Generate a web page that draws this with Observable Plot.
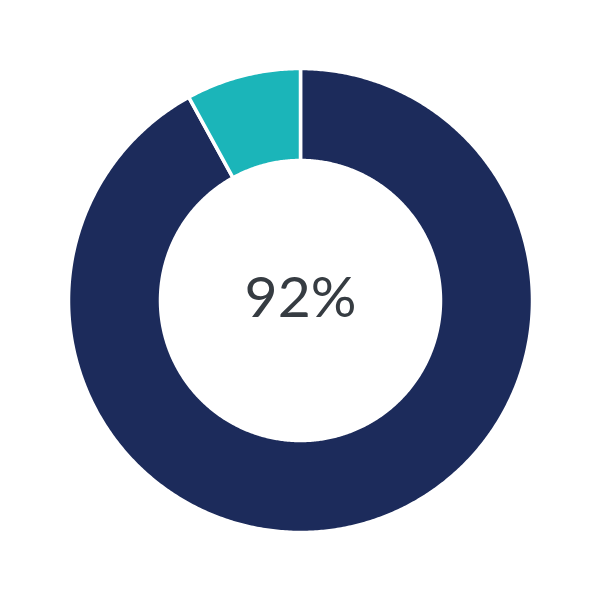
<!DOCTYPE html>
<html>
<head>
<meta charset="utf-8">
<script src="https://cdn.jsdelivr.net/npm/d3@7"></script>
<script src="https://cdn.jsdelivr.net/npm/@observablehq/plot@0.6"></script>
<style>
  html, body { margin: 0; padding: 0; background: #fff; }
  #chart { width: 600px; height: 600px; }
</style>
</head>
<body>
<div id="chart"></div>
<script>
// Data
const categories = ["Yes", "No"];
const values = [92, 8];
const colors = ["#1c2b5b", "#1bb5b9"];
const centerLabel = "92%";

// Geometry constants
const W = 600, H = 600;
const outerR = 232, innerR = 140;

const pie = d3.pie().sort(null).value(d => d.value);
const arcs = pie(categories.map((c, i) => ({category: c, value: values[i]})));

const pts = [];
arcs.forEach(a => {
  const n = Math.max(8, Math.ceil((a.endAngle - a.startAngle) / (Math.PI / 360)));
  for (let i = 0; i <= n; i++) {
    const t = a.startAngle + (a.endAngle - a.startAngle) * i / n;
    pts.push({category: a.data.category, x: outerR * Math.sin(t), y: outerR * Math.cos(t)});
  }
  for (let i = n; i >= 0; i--) {
    const t = a.startAngle + (a.endAngle - a.startAngle) * i / n;
    pts.push({category: a.data.category, x: innerR * Math.sin(t), y: innerR * Math.cos(t)});
  }
  pts.push({category: a.data.category, x: outerR * Math.sin(a.startAngle), y: outerR * Math.cos(a.startAngle)});
});

const chart = Plot.plot({
  width: W,
  height: H,
  margin: 0,
  x: {domain: [-W / 2, W / 2], axis: null},
  y: {domain: [-H / 2, H / 2], axis: null},
  color: {domain: categories, range: colors},
  marks: [
    Plot.line(pts, {x: "x", y: "y", z: "category", fill: "category", stroke: "#ffffff", strokeWidth: 3.5, curve: "linear"}),
    Plot.text([centerLabel], {x: () => 0, y: () => 2, text: d => d, fontSize: 57, fontWeight: 400, fill: "#363c42", fontFamily: "Lato, 'Open Sans', sans-serif", textAnchor: "middle", lineAnchor: "middle"})
  ]
});
document.getElementById("chart").appendChild(chart);
</script>
</body>
</html>
